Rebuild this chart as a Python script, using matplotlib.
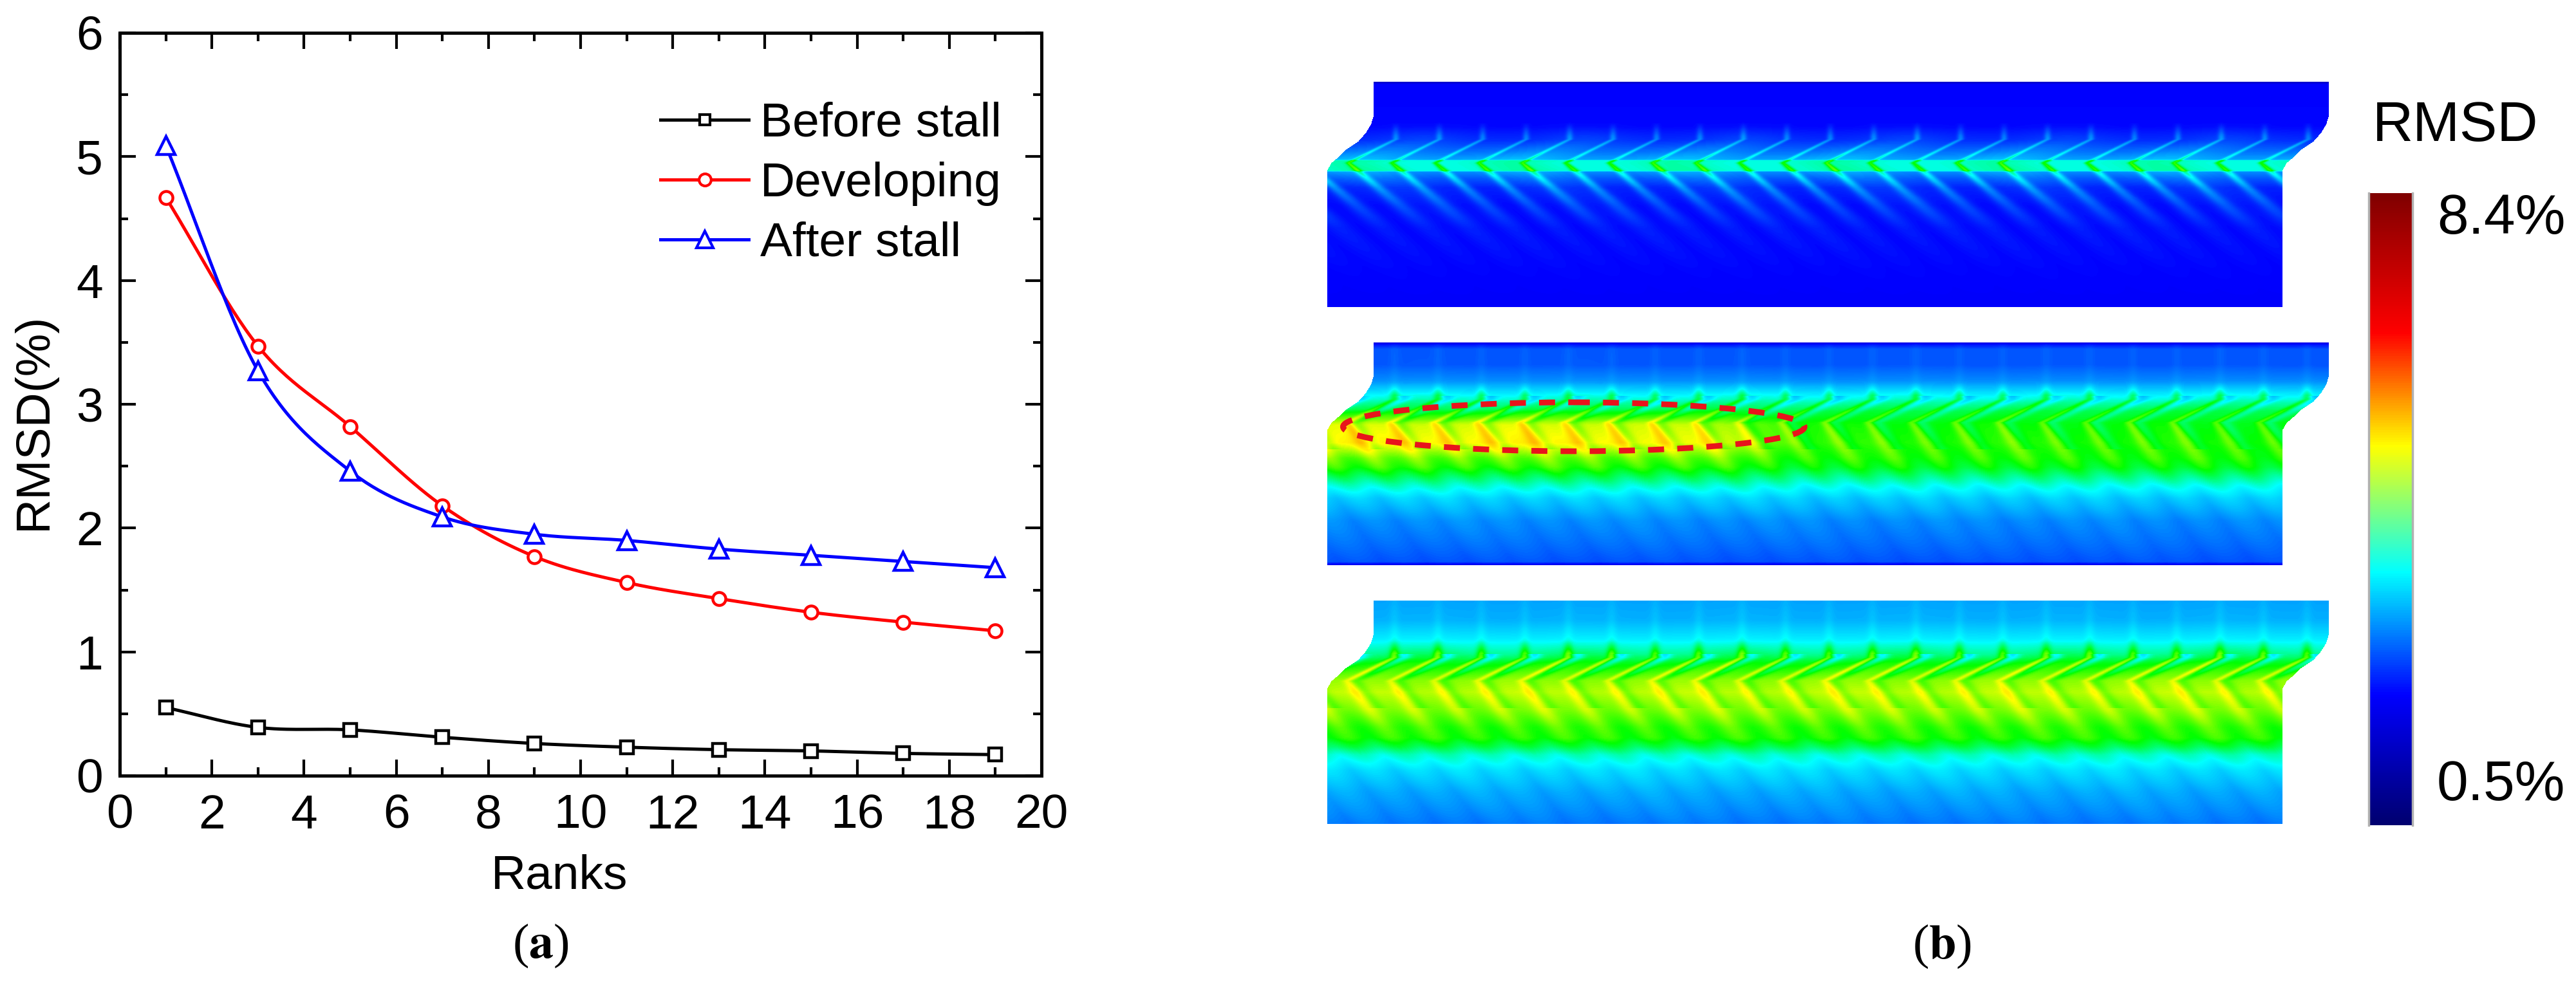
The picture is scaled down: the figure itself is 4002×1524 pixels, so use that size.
import numpy as np
import matplotlib
matplotlib.use("Agg")
import matplotlib.pyplot as plt
from matplotlib.colors import LinearSegmentedColormap
from matplotlib.patches import Ellipse
from matplotlib.ticker import MultipleLocator

W, H = 4002, 1524
plt.rcParams['font.family'] = ['Liberation Sans', 'DejaVu Sans']

ranks = [1, 3, 5, 7, 9, 11, 13, 15, 17, 19]
before_stall = [0.55, 0.39, 0.37, 0.31, 0.26, 0.23, 0.21, 0.20, 0.18, 0.17]
developing = [4.67, 3.47, 2.82, 2.18, 1.77, 1.56, 1.43, 1.32, 1.24, 1.17]
after_stall = [5.09, 3.27, 2.46, 2.09, 1.95, 1.90, 1.83, 1.78, 1.73, 1.68]

# Contour panels: colour-scale level (0-1) read along the panel height
prof_v_1 = [0, .012, .05, .2, .26, .31, .345, .35, .395, .40, .43, .47, .55, .7, 1]
prof_1 = [.10, .205, .205, .21, .24, .29, .33, .41, .41, .31, .27, .23, .21, .205, .2]
prof_v_2 = [0, .01, .03, .1, .17, .22, .27, .31, .37, .45, .52, .56, .60, .64, .70, .8, .9, .985, 1]
prof_2 = [.15, .22, .27, .27, .31, .37, .43, .47, .49, .50, .49, .47, .43, .39, .34, .29, .27, .25, .15]
prof_v_3 = [0, .087, .17, .20, .24, .28, .356, .41, .49, .567, .615, .654, .69, .76, .856, 1]
prof_3 = [.33, .34, .385, .41, .44, .49, .55, .57, .54, .50, .49, .45, .40, .35, .31, .27]
# streak strength along panel height
amp_v = [0, .18, .24, .32, .36, .40, .50, .65, .85, 1]
amp_1 = [0, 0, .08, .11, .11, .12, .07, .02, .005, 0]
amp_2 = [.01, .01, .07, .05, .05, .05, .04, .03, .025, .02]
amp_3 = [.01, .02, .10, .07, .04, .04, .04, .03, .03, .03]
# outline offset of the upper part (fraction of the full offset) along panel height
shift_v = [0, .152, .19, .228, .266, .304, .333, .361, .394, 1]
shift_f = [1, 1, .944, .83, .667, .39, .25, .09, 0, 0]
# hot region of the middle panel along its length and height
hot_u = [0, .30, .42, .50, 1]
hot_a = [.10, .10, .08, .01, 0]
hot_v = [0, .30, .37, .45, .52, .70, 1]
hot_b = [0, .05, .9, 1, .3, .05, 0]

field_cmap = LinearSegmentedColormap.from_list("field", [
    (0, "#000080"), (.205, "#0000ff"), (.40, "#00ffff"), (.50, "#00ff00"),
    (.60, "#ffff00"), (.78, "#ff0000"), (1, "#800000")])
bar_cmap = LinearSegmentedColormap.from_list("bar", [
    (0, "#000070"), (.205, "#0000ff"), (.40, "#00ffff"), (.50, "#80ff80"),
    (.60, "#ffff00"), (.78, "#ff0000"), (1, "#800000")])

fig = plt.figure(figsize=(W / 100, H / 100), dpi=100, facecolor="white")


def axpx(x0, y0, x1, y1, **kw):
    return fig.add_axes([x0 / W, 1 - y1 / H, (x1 - x0) / W, (y1 - y0) / H], **kw)


def smooth(x, y, n=30):
    x, y = np.asarray(x, float), np.asarray(y, float)
    m = np.gradient(y, x)
    xs, ys = [], []
    for i in range(len(x) - 1):
        t = np.linspace(0, 1, n)
        h = x[i + 1] - x[i]
        xs.append(x[i] + t * h)
        ys.append((2*t**3 - 3*t**2 + 1) * y[i] + (t**3 - 2*t**2 + t) * h * m[i]
                  + (-2*t**3 + 3*t**2) * y[i + 1] + (t**3 - t**2) * h * m[i + 1])
    return np.concatenate(xs), np.concatenate(ys)


def soften(z, n=7):
    kern = np.ones(n) / n
    pad = np.pad(z, n, mode="edge")
    pad = np.apply_along_axis(lambda r: np.convolve(r, kern, mode="same"), 1, pad)
    return pad[n:-n, n:-n]


# ---------- panel (a)
ax = axpx(186, 51, 1618, 1205)
series = [(before_stall, "k", "s", 14.5, 11.5, "Before stall"),
          (developing, "#ff0000", "o", 14.5, 13.5, "Developing"),
          (after_stall, "#0000ff", "^", 20, 19, "After stall")]
for vals, c, mk, ms, lms, lab in series:
    sx, sy = smooth(ranks, vals)
    ax.plot(sx, sy, color=c, lw=3.6, zorder=2)
    ax.plot(ranks, vals, ls="none", marker=mk, ms=ms, mfc="white", mec=c, mew=3.2, zorder=3)
    ax.plot([], [], color=c, lw=3.6, marker=mk, ms=lms, mfc="white", mec=c, mew=3, label=lab)
ax.set_xlim(0, 20)
ax.set_ylim(0, 6)
ax.xaxis.set_major_locator(MultipleLocator(2))
ax.xaxis.set_minor_locator(MultipleLocator(1))
ax.yaxis.set_major_locator(MultipleLocator(1))
ax.yaxis.set_minor_locator(MultipleLocator(.5))
ax.tick_params(which="major", direction="in", length=18, width=3, top=True, right=True, labelsize=54)
ax.tick_params(which="minor", direction="in", length=9.5, width=3, top=True, right=True)
ax.tick_params(axis="x", which="major", pad=20)
ax.tick_params(axis="y", which="major", pad=19)
for s in ax.spines.values():
    s.set_linewidth(3.6)
ax.set_xlabel("Ranks", fontsize=54, va="center")
ax.xaxis.set_label_coords(.477, -.135)
ax.set_ylabel("RMSD(%)", fontsize=54, va="center")
ax.yaxis.set_label_coords(-.093, .477)
ax.legend(loc="upper left", bbox_to_anchor=(1026 / W, 1 - 158 / H), bbox_transform=fig.transFigure,
          frameon=False, fontsize=54, handlelength=1.83, handletextpad=.24, labelspacing=.32,
          borderaxespad=0, borderpad=0)

# ---------- panel (b)
pitch = 67.5
full_shift = 72
v0 = .36
#          rows         profile            amps   first blade, upper lean, lower lean, streak width
panels = [((127, 477), prof_v_1, prof_1, amp_1, (2095, 700, 420, .06)),
          ((532, 878), prof_v_2, prof_2, amp_2, (2093, 700, 250, .10)),
          ((933, 1280), prof_v_3, prof_3, amp_3, (2093, 700, 270, .10))]
for k, ((y0, y1), pv, pr, am, (xb, lu, ll, wd)) in enumerate(panels):
    a = axpx(2062, y0, 3620, y1)
    nx, ny = 1558, y1 - y0
    X, V = np.meshgrid(np.arange(nx) + .5, (np.arange(ny) + .5) / ny)
    base = np.interp(V, pv, pr)
    A = np.interp(V, amp_v, am)
    dv = V - v0
    up = np.clip(-dv, 0, .105)
    lo = np.clip(dv, 0, None)
    lean = lu * up + ll * lo
    pos = X + 2062 - xb - lean
    phase = (pos / pitch + .5) % 1 - .5
    w = wd + .9 * lo
    narrow = np.exp(-(phase / w) ** 2)
    notch = np.exp(-(((pos / pitch + .28) % 1 - .5) / (1.6 * wd)) ** 2) * (np.abs(dv) < .12)
    broad = np.exp(-(((X + 2062 - xb - lean * 1.6) / (pitch * 3.7) + .5) % 1 - .5) ** 2 / .06)
    Z = base + A * narrow + .22 * A * broad
    if k > 0:
        Z = Z - .7 * A * notch
    if k == 1:
        Z = Z + np.interp(X / 1484, hot_u, hot_a) * np.interp(V, hot_v, hot_b)
    Z = soften(Z)
    s = np.interp(V, shift_v, shift_f) * full_shift
    mask = (X < s) | (X > 1484 + s)
    a.imshow(np.ma.array(Z, mask=mask), cmap=field_cmap, vmin=0, vmax=1, aspect="auto",
             interpolation="bilinear", extent=(2062, 3620, y1, y0))
    a.axis("off")
    if k == 1:
        a.add_patch(Ellipse((2445, 663), 717, 76, fill=False, ec="#e8141c", lw=6.4,
                            linestyle=(0, (2.8, 2.3)), zorder=5))
        a.set_xlim(2062, 3620)
        a.set_ylim(y1, y0)

cb = axpx(3680, 300, 3748, 1282)
cb.imshow(np.linspace(1, 0, 256)[:, None], cmap=bar_cmap, vmin=0, vmax=1, aspect="auto")
cb.set_xticks([])
cb.set_yticks([])
for n, s in cb.spines.items():
    s.set_color("#b0b0b0")
    s.set_linewidth(2.5 if n in ("left", "right") else 0)


def ftext(x, y, s, **kw):
    fig.text(x / W, 1 - y / H, s, va="center", **kw)


ftext(3815, 197, "RMSD", ha="center", fontsize=63)
ftext(3786, 340, "8.4%", ha="left", fontsize=63)
ftext(3786, 1221, "0.5%", ha="left", fontsize=63)
ftext(840, 1469, r"($\mathbf{a}$)", ha="center", fontsize=55, family=["Liberation Serif"], math_fontfamily="stix")
ftext(3017, 1470, r"($\mathbf{b}$)", ha="center", fontsize=55, family=["Liberation Serif"], math_fontfamily="stix")

fig.savefig("out.png", dpi=100, facecolor="white")
